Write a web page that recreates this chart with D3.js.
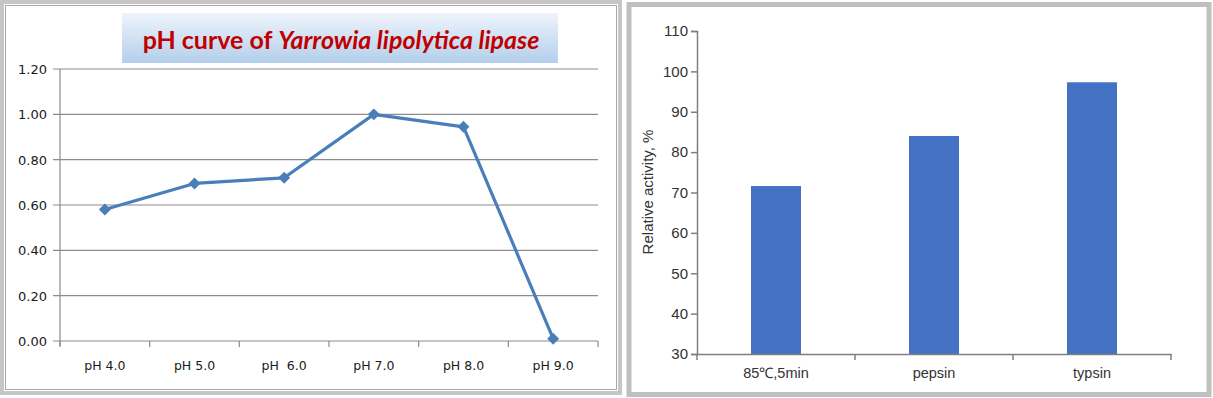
<!DOCTYPE html>
<html>
<head>
<meta charset="utf-8">
<script src="https://cdn.jsdelivr.net/npm/d3@7"></script>
<style>
  body { margin: 0; background: #fff; }
  svg { display: block; }
</style>
</head>
<body>
<div id="mainDiv"></div>
<script>
// left chart data
var phLabels = ["pH 4.0", "pH 5.0", "pH  6.0", "pH 7.0", "pH 8.0", "pH 9.0"];
var phValues = [0.58, 0.695, 0.72, 1.00, 0.945, 0.01];
var phTicks = [0, 0.2, 0.4, 0.6, 0.8, 1.0, 1.2];

// right chart data
var treatments = ["85\u2103,5min", "pepsin", "typsin"];
var activity = [71.6, 84, 97.3];
var activityTicks = [30, 40, 50, 60, 70, 80, 90, 100, 110];

var svg = d3.select("#mainDiv").append("svg").attr("width", 1213).attr("height", 398);

// frames
svg.append("rect").attr("x", 2).attr("y", 2).attr("width", 618).attr("height", 391)
    .attr("fill", "#fff").attr("stroke", "#c6c6c6").attr("stroke-width", 4);
svg.append("rect").attr("x", 5.5).attr("y", 5.5).attr("width", 611).attr("height", 384)
    .attr("fill", "none").attr("stroke", "#a8a8a8").attr("stroke-width", 1);
svg.append("rect").attr("x", 629).attr("y", 4.5).attr("width", 580).attr("height", 390)
    .attr("fill", "#fff").attr("stroke", "#c0c0c0").attr("stroke-width", 5);

// ---- left chart ----
var grad = svg.append("defs").append("linearGradient").attr("id", "titleGrad")
    .attr("x1", 0).attr("y1", 0).attr("x2", 0).attr("y2", 1);
grad.append("stop").attr("offset", "0%").attr("stop-color", "#eef4fb");
grad.append("stop").attr("offset", "100%").attr("stop-color", "#b3cfec");

svg.append("rect").attr("x", 122).attr("y", 13).attr("width", 436).attr("height", 50)
    .attr("fill", "url(#titleGrad)");
var title = svg.append("text").attr("x", 341).attr("y", 49)
    .attr("text-anchor", "middle")
    .style("font-family", "Lato, 'Open Sans', sans-serif")
    .style("font-size", "25px").style("font-weight", "bold").attr("fill", "#c00000");
title.append("tspan").text("pH curve of ");
title.append("tspan").style("font-style", "italic").text("Yarrowia lipolytica lipase");

var x1 = d3.scaleBand().domain(phLabels).range([60, 598]);
var y1 = d3.scaleLinear().domain([0, 1.2]).range([341, 69]);

var left = svg.append("g");
left.selectAll(".grid").data(phTicks).enter().append("line")
    .attr("x1", 53).attr("x2", 598)
    .attr("y1", function(d) { return y1(d); })
    .attr("y2", function(d) { return y1(d); })
    .attr("stroke", "#8c8c8c").attr("stroke-width", 1.2);
left.append("line").attr("x1", 60).attr("x2", 60).attr("y1", 69).attr("y2", 346)
    .attr("stroke", "#8c8c8c").attr("stroke-width", 1.2);
left.selectAll(".ylab").data(phTicks).enter().append("text")
    .attr("x", 47).attr("y", function(d) { return y1(d) + 5; })
    .attr("text-anchor", "end")
    .style("font-family", "'DejaVu Sans', sans-serif").style("font-size", "13px")
    .attr("fill", "#1a1a1a")
    .text(function(d) { return d3.format(".2f")(d); });

var xTicks1 = phLabels.map(function(d) { return x1(d); }).concat([598]);
left.selectAll(".xtick").data(xTicks1).enter().append("line")
    .attr("x1", function(d) { return d; }).attr("x2", function(d) { return d; })
    .attr("y1", 341).attr("y2", 347)
    .attr("stroke", "#8c8c8c").attr("stroke-width", 1.2);
left.selectAll(".xlab").data(phLabels).enter().append("text")
    .attr("x", function(d) { return x1(d) + x1.bandwidth() / 2; })
    .attr("y", 370).attr("text-anchor", "middle")
    .style("white-space", "pre")
    .style("font-family", "'DejaVu Sans', sans-serif").style("font-size", "12.5px")
    .attr("fill", "#1a1a1a")
    .text(function(d) { return d; });

var line = d3.line()
    .x(function(d, i) { return x1(phLabels[i]) + x1.bandwidth() / 2; })
    .y(function(d) { return y1(d); });
left.append("path").datum(phValues).attr("d", line)
    .attr("fill", "none").attr("stroke", "#4a7ebb").attr("stroke-width", 3.2)
    .attr("stroke-linejoin", "round");
left.selectAll(".mark").data(phValues).enter().append("path")
    .attr("d", d3.symbol().type(d3.symbolDiamond2).size(90))
    .attr("transform", function(d, i) {
        return "translate(" + (x1(phLabels[i]) + x1.bandwidth() / 2) + "," + y1(d) + ")";
    })
    .attr("fill", "#4a7ebb");

// ---- right chart ----
var x2 = d3.scaleBand().domain(treatments).range([697, 1171]);
var y2 = d3.scaleLinear().domain([30, 110]).range([354, 31]);

var right = svg.append("g");
right.selectAll(".bar").data(activity).enter().append("rect")
    .attr("x", function(d, i) { return x2(treatments[i]) + x2.bandwidth() / 2 - 25; })
    .attr("width", 50)
    .attr("y", function(d) { return y2(d); })
    .attr("height", function(d) { return y2(30) - y2(d); })
    .attr("fill", "#4472c4");

var yAxis2 = right.append("g").attr("transform", "translate(697,0)")
    .call(d3.axisLeft(y2).tickValues(activityTicks).tickSize(6).tickPadding(3));
var xAxis2 = right.append("g").attr("transform", "translate(0,354)")
    .call(d3.axisBottom(x2).tickSize(0).tickPadding(14));
right.selectAll(".xt").data(treatments.map(function(d) { return x2(d); }).concat([1171]))
    .enter().append("line")
    .attr("x1", function(d) { return d; }).attr("x2", function(d) { return d; })
    .attr("y1", 354).attr("y2", 360)
    .attr("stroke", "#7f7f7f").attr("stroke-width", 1.5);

[yAxis2, xAxis2].forEach(function(a) {
    a.selectAll("path, line").attr("stroke", "#7f7f7f").attr("stroke-width", 1.5);
    a.selectAll("text").style("font-family", "'Liberation Sans', Arial, sans-serif")
        .attr("fill", "#333");
});
yAxis2.selectAll("text").style("font-size", "15px");
xAxis2.selectAll("text").style("font-size", "14.5px");

right.append("text")
    .attr("transform", "translate(653,192) rotate(-90)")
    .attr("text-anchor", "middle")
    .style("font-family", "'Liberation Sans', Arial, sans-serif").style("font-size", "15px")
    .attr("fill", "#333")
    .text("Relative activity, %");
</script>
</body>
</html>
